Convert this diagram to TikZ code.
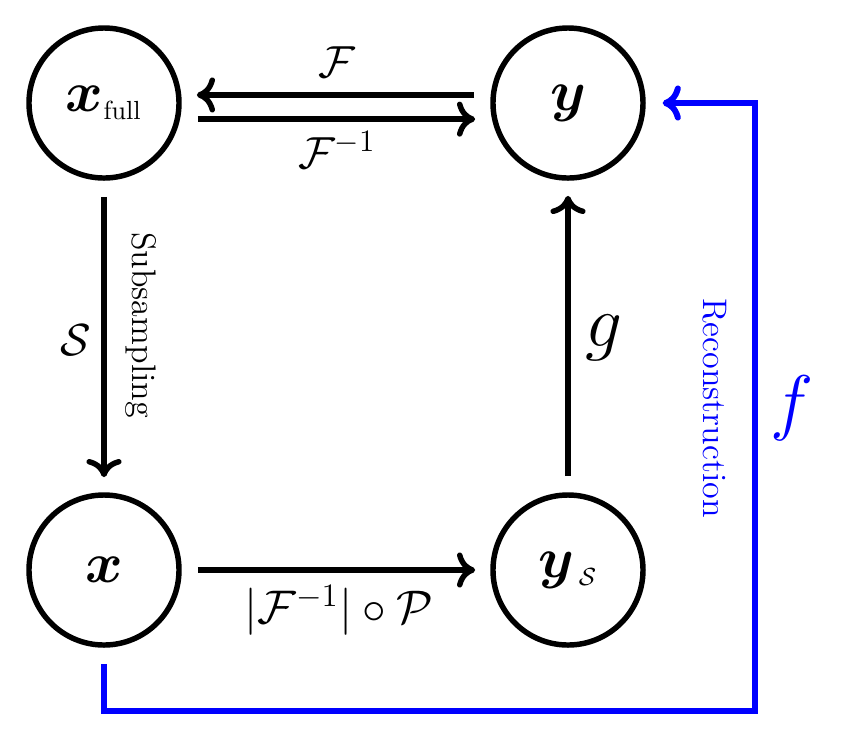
\documentclass[tikz,border=0pt]{standalone}
\usepackage{amsmath}
\usepackage{bm}
\usetikzlibrary{arrows.meta}
\tikzset{
  stage/.style={circle, draw=black, line width=2.1pt, minimum size=57.7pt, inner sep=0pt,
    font=\huge},
  tip/.style={-{To[length=7pt,width=13.5pt]}},
  conn/.style={line width=2.1pt, tip, shorten <=6.2pt, shorten >=5.8pt},
  mid/.style={font=\LARGE},
  big/.style={font=\Huge},
  side/.style={font=\fontsize{13.1}{15}\selectfont, rotate=-90},
  recon/.style={blue, line width=2.3pt, tip, shorten <=6.2pt, shorten >=6.5pt},
}
\newcommand{\subtxt}[1]{\text{\fontsize{9.5}{11}\selectfont #1}}
\newcommand{\subcal}[1]{\text{\fontsize{9}{10}\selectfont$\mathcal{#1}$}}
\begin{document}
\begin{tikzpicture}[x=0.3846pt, y=-0.3846pt]
\useasboundingbox (0,0) rectangle (854,736);
\node[stage] (xf) at (104,103) {\scalebox{1.06}{$\bm{x}_{\subtxt{full}}$}};
\node[stage] (y) at (568,103) {\scalebox{1.06}{$\bm{y}$}};
\node[stage] (x) at (104,570) {\scalebox{1.06}{$\bm{x}$}};
\node[stage] (ys) at (568,570) {\scalebox{1.06}{$\bm{y}_{\,\subcal{S}}$}};

\draw[conn] ([yshift=3.1pt]y.west) -- ([yshift=3.1pt]xf.east);
\draw[conn] ([yshift=-6.2pt]xf.east) -- ([yshift=-6.2pt]y.west);
\node[mid] (lF) at (337,62) {$\mathcal{F}$};
\node[mid] (lFi) at (337,150) {$\mathcal{F}^{-1}$};

\draw[conn] (xf.south) -- (x.north);
\node[mid] (lS) at (76,340) {$\mathcal{S}$};
\node[side] (lsub) at (141,325) {Subsampling};

\draw[conn] (ys.north) -- (y.south);
\node[big] (lg) at (604,338) {\scalebox{1.13}{$g$}};

\draw[conn] (x.east) -- (ys.west);
\node[mid] (lP) at (339,610) {\scalebox{1.05}{$|\mathcal{F}^{-1}|\circ\mathcal{P}$}};

\coordinate (cBL) at (104,711);
\coordinate (cBR) at (755,711);
\coordinate (cTR) at (755,103);
\draw[recon] (x.south) -- (cBL) -- (cBR) -- (cTR) -- (y.east);
\node[side, blue] (lrec) at (715,408) {Reconstruction};
\node[big, blue] (lf) at (792,408) {\scalebox{1.13}{$f$}};
\end{tikzpicture}
\end{document}
